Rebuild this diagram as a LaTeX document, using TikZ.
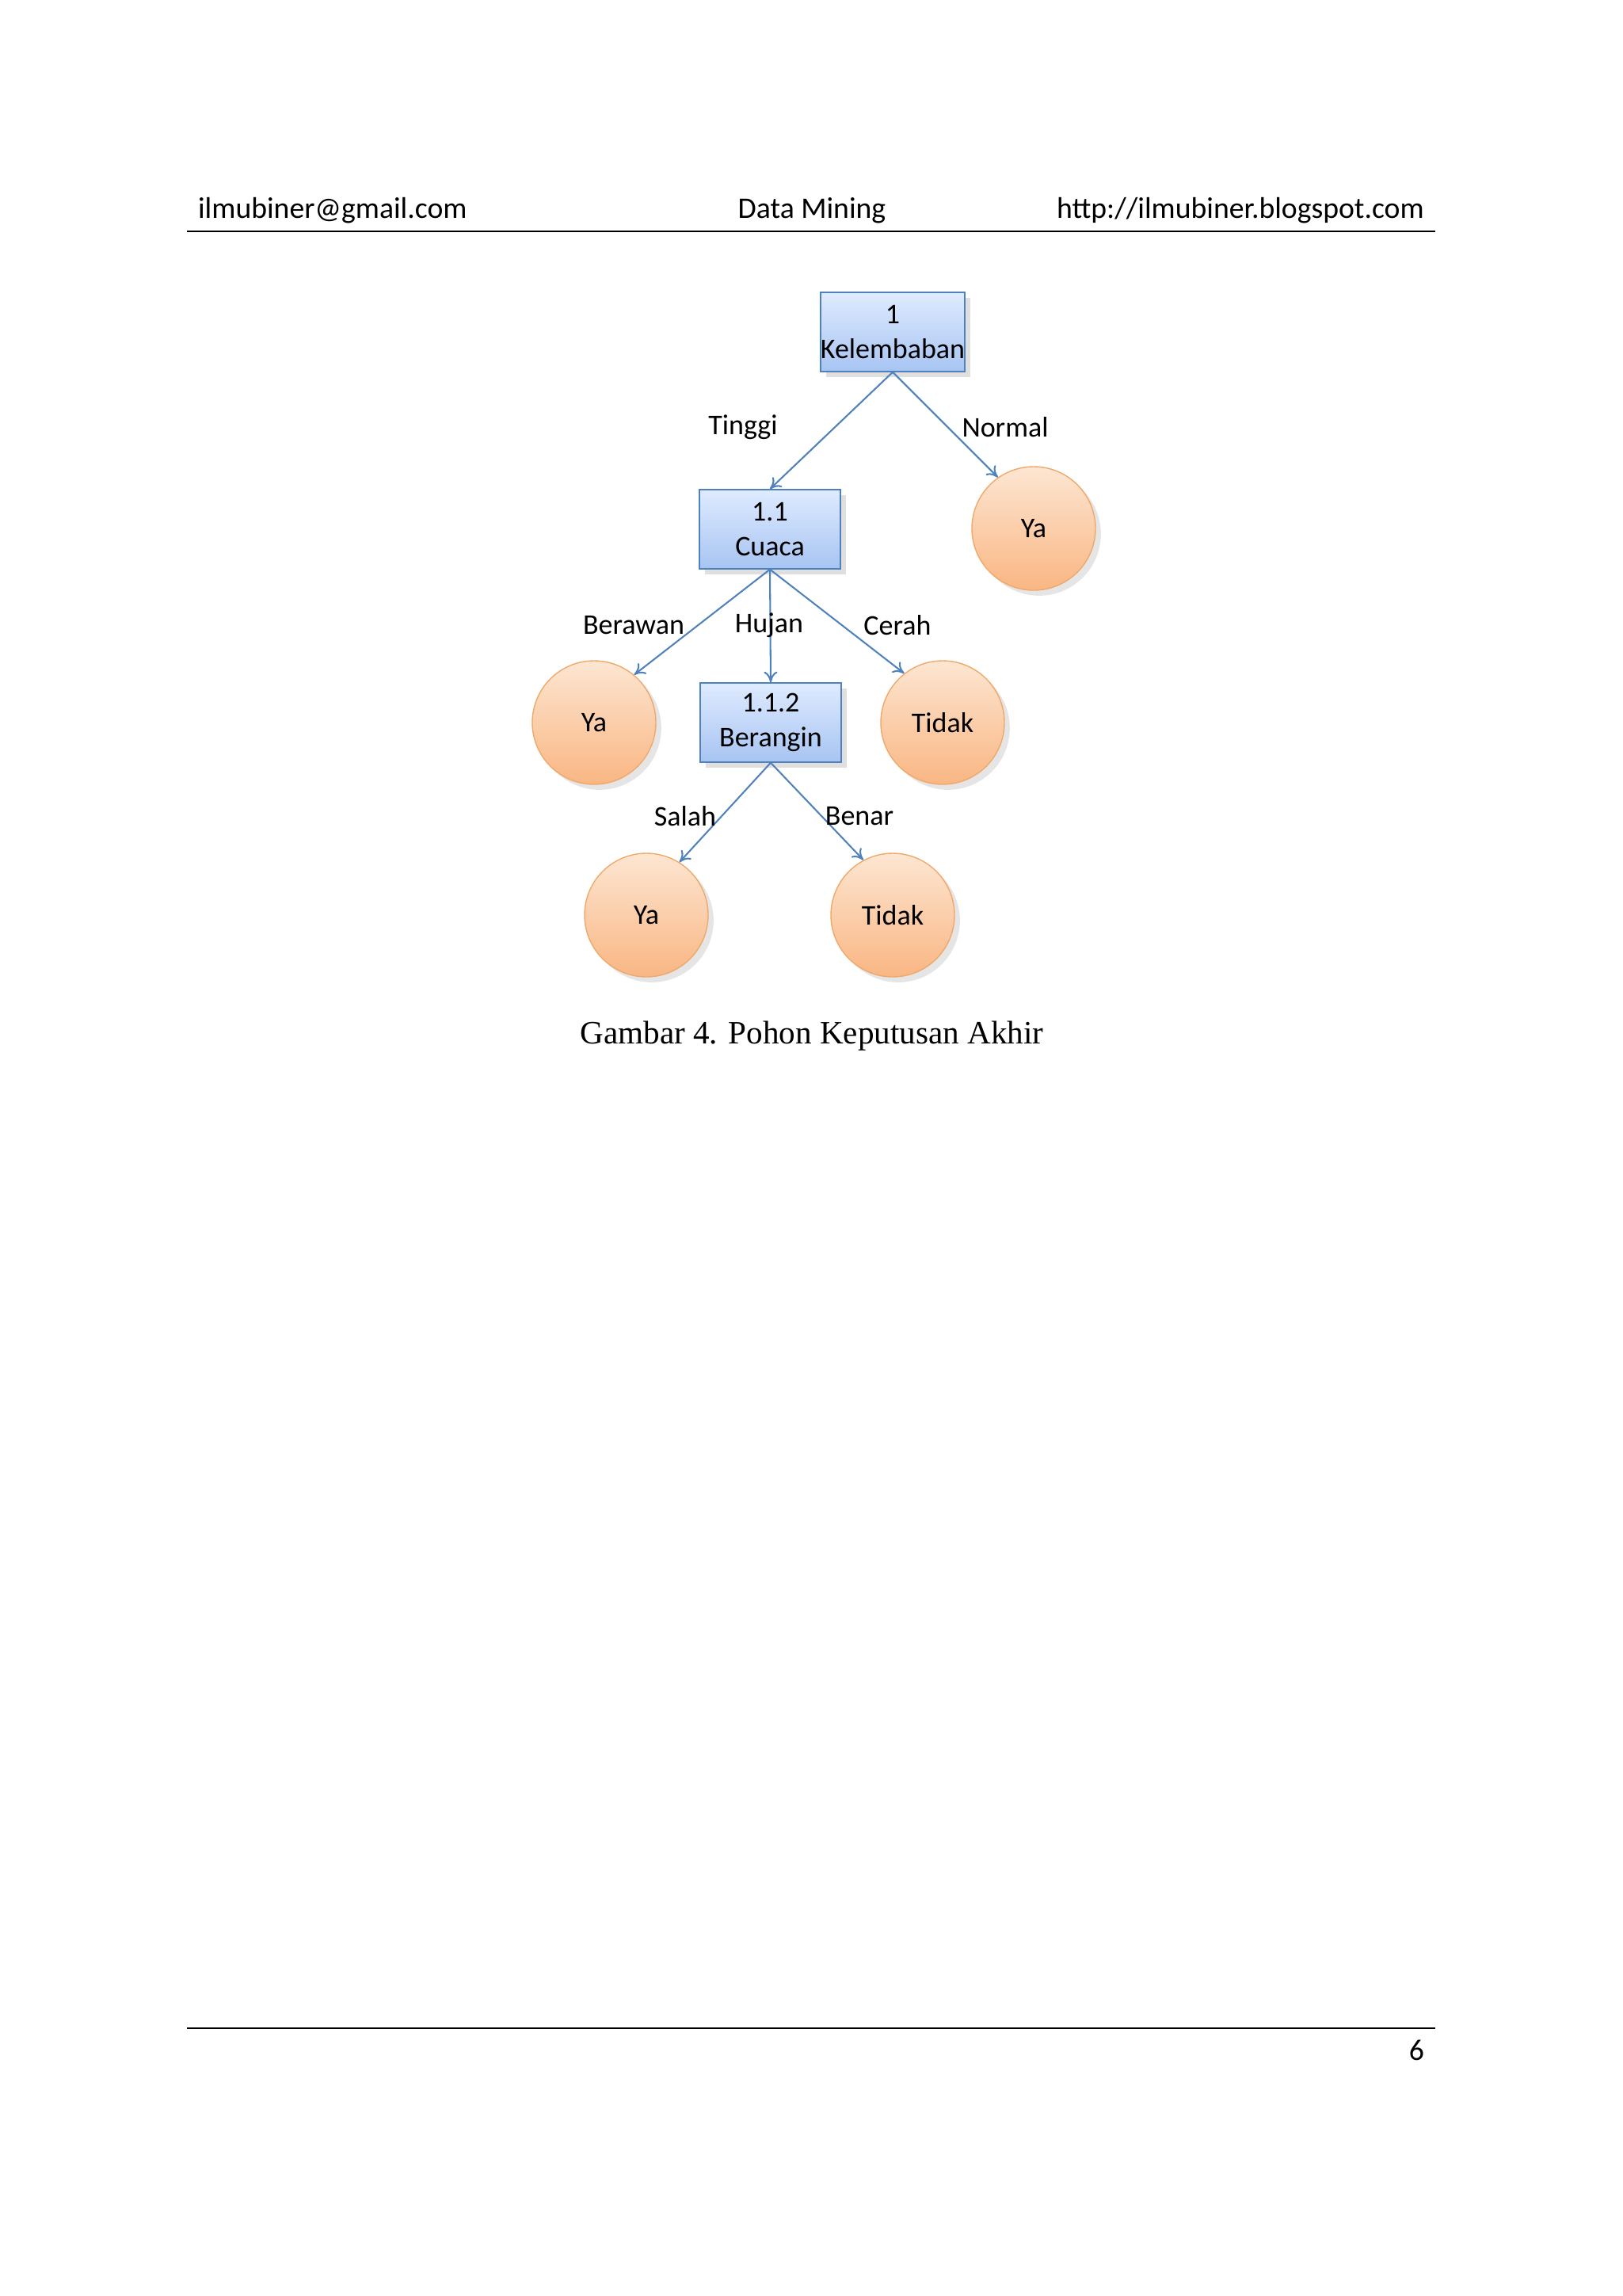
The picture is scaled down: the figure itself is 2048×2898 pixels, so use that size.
\documentclass[tikz,border=0pt]{standalone}
\usepackage{fontspec}
\setmainfont{Carlito}
\newfontfamily\capfont{Liberation Serif}
\usetikzlibrary{shadows,arrows.meta}
\definecolor{bbord}{HTML}{4F81BD}
\definecolor{btop}{HTML}{DFEBFF}
\definecolor{bbot}{HTML}{A7C4F2}
\definecolor{otop}{HTML}{FDE6D2}
\definecolor{obot}{HTML}{F9B683}
\definecolor{obord}{HTML}{F0A868}
\tikzset{
 dbox/.style={draw=bbord,top color=btop,bottom color=bbot,minimum width=178\unitpx,minimum height=100\unitpx,align=center,font=\fontsize{10.5}{13}\selectfont,inner sep=0pt,drop shadow={opacity=0.25,shadow xshift=2pt,shadow yshift=-2pt}},
 leaf/.style={circle,draw=obord,top color=otop,bottom color=obot,minimum size=156\unitpx,font=\fontsize{10.5}{13}\selectfont,inner sep=0pt,drop shadow={opacity=0.2,shadow xshift=2pt,shadow yshift=-2pt}},
 edge/.style={draw=bbord,line width=0.6pt,-{To[length=4pt,width=5pt]}},
 lab/.style={font=\fontsize{10.5}{13}\selectfont},
 hdr/.style={font=\fontsize{11}{13}\selectfont}
}
\newlength\unitpx
\setlength\unitpx{0.01025cm}
\begin{document}
\begin{tikzpicture}[x=0.01025cm,y=-0.01025cm]
\useasboundingbox[fill=white] (0,0) rectangle (2048,2898);
% header
\node[hdr,anchor=west] (h1) at (238,266) {ilmubiner@gmail.com};
\node[hdr] (h2) at (1025,266) {Data Mining};
\node[hdr,anchor=east] (h3) at (1810,266) {http://ilmubiner.blogspot.com};
\draw[line width=0.5pt] (236,292) -- (1812,292);
% footer
\draw[line width=0.5pt] (236,2560) -- (1812,2560);
\node[hdr,anchor=east] (pg) at (1810,2588) {6};
% tree
\node[dbox] (k) at (1127,419) {1\\Kelembaban};
\node[dbox] (c) at (972,668) {1.1\\Cuaca};
\node[leaf] (y1) at (1305,667) {Ya};
\node[leaf] (y2) at (750,912) {Ya};
\node[dbox] (b) at (973,912) {1.1.2\\Berangin};
\node[leaf] (t1) at (1190,912) {Tidak};
\node[leaf] (y3) at (816,1155) {Ya};
\node[leaf] (t2) at (1127,1155) {Tidak};
\draw[edge] (k.south) -- (c.north);
\draw[edge] (k.south) -- (y1.125);
\draw[edge] (c.south) -- (y2.50);
\draw[edge] (c.south) -- (b.north);
\draw[edge] (c.south) -- (t1.128);
\draw[edge] (b.south) -- (y3.58);
\draw[edge] (b.south) -- (t2.118);
\node[lab] (l1) at (938,539) {Tinggi};
\node[lab] (l2) at (1269,539) {Normal};
\node[lab] (l3) at (800,789) {Berawan};
\node[lab] (l4) at (971,789) {Hujan};
\node[lab] (l5) at (1133,789) {Cerah};
\node[lab] (l6) at (865,1030) {Salah};
\node[lab] (l7) at (1085,1030) {Benar};
\node[font=\capfont\fontsize{12}{14}\selectfont] (cap) at (1025,1308) {Gambar 4. Pohon Keputusan Akhir};
\end{tikzpicture}
\end{document}
